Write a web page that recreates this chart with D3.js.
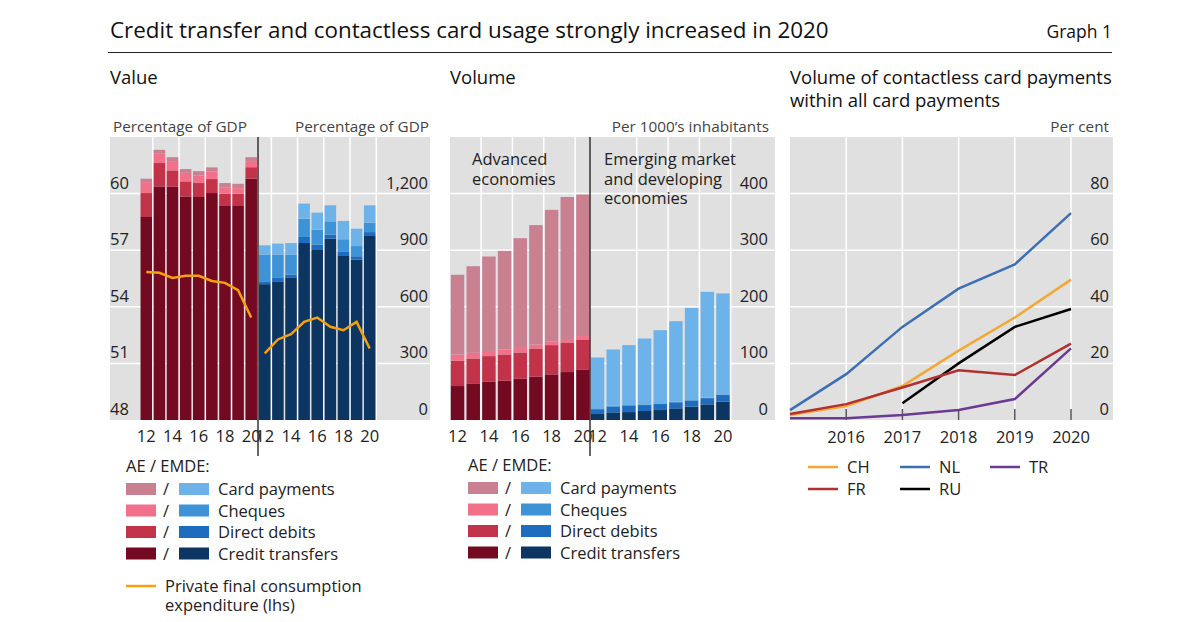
<!DOCTYPE html>
<html>
<head>
<meta charset="utf-8">
<script src="https://cdn.jsdelivr.net/npm/d3@7"></script>
<style>
  body { margin: 0; background: #fff; }
  svg { font-family: "Open Sans", "Noto Sans", sans-serif; }
</style>
</head>
<body>
<div id="chart"></div>
<script>
var width = 1200,
    height = 622;

// ---- data ----
var years = [2012, 2013, 2014, 2015, 2016, 2017, 2018, 2019, 2020];
var labelYears = [2012, 2014, 2016, 2018, 2020];
var keys = ["credit", "debit", "cheque", "card"];

// Value, percentage of GDP (rhs)
var valAECredit = [1076, 1238, 1236, 1185, 1182, 1203, 1138, 1138, 1279];
var valAEDebit  = [127, 124, 87, 80, 74, 74, 61, 61, 61];
var valAECheque = [58, 49, 49, 45, 40, 40, 32, 30, 32];
var valAECard   = [18, 21, 21, 20, 23, 22, 25, 23, 21];
var valEMCredit = [720, 735, 753, 938, 905, 961, 873, 850, 979];
var valEMDebit  = [15, 18, 18, 32, 25, 21, 18, 18, 17];
var valEMCheque = [142, 124, 106, 97, 79, 71, 67, 54, 50];
var valEMCard   = [49, 58, 61, 80, 90, 85, 97, 92, 92];
// Private final consumption expenditure, % of GDP (lhs)
var consAE = [55.85, 55.8, 55.53, 55.64, 55.64, 55.37, 55.27, 54.88, 53.43];
var consEM = [51.53, 52.27, 52.55, 53.2, 53.43, 52.94, 52.76, 53.2, 51.79];

// Volume, per 1000's inhabitants
var volAECredit = [60, 64.7, 67.6, 69.4, 72.9, 76.4, 80.6, 84.7, 89.4];
var volAEDebit  = [44.6, 44, 45.3, 46.4, 46.4, 50, 51.7, 52.3, 52.9];
var volAECheque = [11, 10, 9, 9, 8, 7, 6, 6, 6];
var volAECard   = [141, 153, 167, 174, 194, 211, 233, 251, 250];
var volEMCredit = [11.8, 13.5, 14, 15.9, 17.6, 20.6, 23.5, 27.6, 32.3];
var volEMDebit  = [7.3, 10.3, 11, 10.5, 10.6, 10.7, 10.8, 11, 12.2];
var volEMCheque = [1.5, 1.5, 1.5, 1.2, 1.2, 1, 1, 0.8, 0.8];
var volEMCard   = [89.9, 99.3, 105.8, 116.4, 129.3, 142.3, 162.8, 187, 178.3];

// Contactless share of card payments, per cent
var ctYears = [2015, 2016, 2017, 2018, 2019, 2020];
var ctCH = [1.8, 4.9, 12, 24.5, 36.2, 49.6];
var ctNL = [3.5, 16.2, 32.9, 46.4, 55, 73.1];
var ctFR = [2.1, 5.6, 11.5, 17.6, 15.9, 27];
var ctRU = [null, null, 5.9, 20, 32.9, 39.2];
var ctTR = [0.6, 0.6, 1.8, 3.5, 7.4, 25.3];

var valTicksR = [0, 300, 600, 900, 1200];
var valTicksL = [48, 51, 54, 57, 60];
var volTicks = [0, 100, 200, 300, 400];
var ctTicks = [0, 20, 40, 60, 80];

var aeColors = {card: "#c98191", cheque: "#f2708a", debit: "#c2334a", credit: "#730a22"};
var emColors = {card: "#6db3ea", cheque: "#3d93d6", debit: "#1d6cc0", credit: "#0c3561"};
var orange = "#f5a10f";
var bg = "#e0e0e0";

var svg = d3.select("#chart").append("svg")
    .attr("width", width)
    .attr("height", height);

var TOP = 137, BOT = 420;

function rows(c, d, q, k) {
    return years.map(function(y, i) {
        return {year: y, credit: c[i], debit: d[i], cheque: q[i], card: k[i]};
    });
}
var stack = d3.stack().keys(keys);

function drawBars(g, data, x, y, colors) {
    var series = stack(data);
    g.selectAll(null)
        .data(series)
        .enter().append("g")
        .attr("fill", function(s) { return colors[s.key]; })
        .selectAll("rect")
        .data(function(s) { return s; })
        .enter().append("rect")
        .attr("x", function(d) { return x(d.data.year); })
        .attr("width", x.bandwidth())
        .attr("y", function(d) { return y(d[1]); })
        .attr("height", function(d) { return y(d[0]) - y(d[1]); });
}

function hGrid(g, ticks, y, x0, x1) {
    g.selectAll(null).data(ticks).enter().append("line")
        .attr("x1", x0).attr("x2", x1)
        .attr("y1", function(d) { return y(d); })
        .attr("y2", function(d) { return y(d); })
        .attr("stroke", "#fff").attr("stroke-width", 1.5);
}

function vGridAfter(g, x, idx) {
    var gap = x.step() - x.bandwidth();
    g.selectAll(null).data(idx).enter().append("line")
        .attr("x1", function(i) { return x(years[i]) + x.bandwidth() + gap / 2; })
        .attr("x2", function(i) { return x(years[i]) + x.bandwidth() + gap / 2; })
        .attr("y1", TOP).attr("y2", BOT)
        .attr("stroke", "#fff").attr("stroke-width", 1.5);
}

function tickLabels(g, ticks, y, xpos, anchor, fmt) {
    g.selectAll(null).data(ticks).enter().append("text")
        .attr("x", xpos)
        .attr("y", function(d) { return y(d) - 5; })
        .attr("text-anchor", anchor)
        .attr("font-size", 16.5)
        .attr("fill", "#222")
        .text(fmt || function(d) { return d; });
}

function xLabels(g, list, x) {
    g.selectAll(null).data(list).enter().append("text")
        .attr("x", function(d) { return x(d) + x.bandwidth() / 2; })
        .attr("y", 442)
        .attr("text-anchor", "middle")
        .attr("font-size", 16.5)
        .attr("fill", "#222")
        .text(function(d) { return String(d).slice(2); });
}

function text(x, y, s, size, opts) {
    opts = opts || {};
    return svg.append("text")
        .attr("x", x).attr("y", y)
        .attr("font-size", size)
        .attr("text-anchor", opts.anchor || "start")
        .attr("fill", opts.fill || "#111")
        .text(s);
}

// ---- header ----
text(110, 38, "Credit transfer and contactless card usage strongly increased in 2020", 22.4);
text(1112, 38, "Graph 1", 17.5, {anchor: "end"});
svg.append("line").attr("x1", 108).attr("x2", 1112).attr("y1", 52.5).attr("y2", 52.5)
    .attr("stroke", "#222").attr("stroke-width", 1);

text(110, 84, "Value", 18.5);
text(450, 84, "Volume", 18.5);
text(790, 84, "Volume of contactless card payments", 18.5);
text(790, 107, "within all card payments", 18.5);

text(113, 132, "Percentage of GDP", 15.3, {fill: "#444"});
text(429, 132, "Percentage of GDP", 15.3, {fill: "#444", anchor: "end"});
text(769, 132, "Per 1000\u2019s inhabitants", 15.3, {fill: "#444", anchor: "end"});
text(1109, 132, "Per cent", 15.3, {fill: "#444", anchor: "end"});

// ---- panel 1: value ----
var p1 = svg.append("g");
var yR = d3.scaleLinear().domain([0, 1500]).range([BOT, TOP]);
var yL = d3.scaleLinear().domain([48, 63]).range([BOT, TOP]);
var x1AE = d3.scaleBand().domain(years).range([140, 257.5]).paddingInner(0.12).paddingOuter(0.04);
var x1EM = d3.scaleBand().domain(years).range([258.5, 376]).paddingInner(0.12).paddingOuter(0.04);

p1.append("rect").attr("x", 110).attr("y", TOP).attr("width", 320).attr("height", BOT - TOP).attr("fill", bg);
hGrid(p1, valTicksR.slice(1), yR, 110, 430);
vGridAfter(p1, x1AE, [0, 2, 4, 6]);
vGridAfter(p1, x1EM, [0, 2, 4, 6, 8]);
drawBars(p1, rows(valAECredit, valAEDebit, valAECheque, valAECard), x1AE, yR, aeColors);
drawBars(p1, rows(valEMCredit, valEMDebit, valEMCheque, valEMCard), x1EM, yR, emColors);

var consLine = function(x) {
    return d3.line()
        .x(function(d, i) { return x(years[i]) + x.bandwidth() / 2; })
        .y(function(d) { return yL(d); });
};
p1.append("path").datum(consAE).attr("d", consLine(x1AE))
    .attr("fill", "none").attr("stroke", orange).attr("stroke-width", 2.5);
p1.append("path").datum(consEM).attr("d", consLine(x1EM))
    .attr("fill", "none").attr("stroke", orange).attr("stroke-width", 2.5);

tickLabels(p1, valTicksL, yL, 110, "start");
tickLabels(p1, valTicksR, yR, 428, "end", d3.format(","));
xLabels(p1, labelYears, x1AE);
xLabels(p1, labelYears, x1EM);
p1.append("line").attr("x1", 258).attr("x2", 258).attr("y1", TOP).attr("y2", 456)
    .attr("stroke", "#333").attr("stroke-width", 1.5);

// ---- panel 2: volume ----
var p2 = svg.append("g");
var yV = d3.scaleLinear().domain([0, 500]).range([BOT, TOP]);
var x2AE = d3.scaleBand().domain(years).range([450.5, 590]).paddingInner(0.14).paddingOuter(0.02);
var x2EM = d3.scaleBand().domain(years).range([590.5, 730]).paddingInner(0.14).paddingOuter(0.02);

p2.append("rect").attr("x", 450).attr("y", TOP).attr("width", 325).attr("height", BOT - TOP).attr("fill", bg);
hGrid(p2, volTicks.slice(1), yV, 450, 775);
vGridAfter(p2, x2AE, [1, 3, 5, 7]);
vGridAfter(p2, x2EM, [2, 4, 6, 8]);
drawBars(p2, rows(volAECredit, volAEDebit, volAECheque, volAECard), x2AE, yV, aeColors);
drawBars(p2, rows(volEMCredit, volEMDebit, volEMCheque, volEMCard), x2EM, yV, emColors);
tickLabels(p2, volTicks, yV, 768, "end");
xLabels(p2, labelYears, x2AE);
xLabels(p2, labelYears, x2EM);
p2.append("line").attr("x1", 590).attr("x2", 590).attr("y1", TOP).attr("y2", 456)
    .attr("stroke", "#333").attr("stroke-width", 1.5);

[["Advanced", 165], ["economies", 185]].forEach(function(t) {
    text(472, t[1], t[0], 16.5, {fill: "#222"});
});
[["Emerging market", 165], ["and developing", 185], ["economies", 204]].forEach(function(t) {
    text(604, t[1], t[0], 16.5, {fill: "#222"});
});

// ---- panel 3: contactless ----
var p3 = svg.append("g");
var xP = d3.scaleLinear().domain([2015, 2020]).range([790, 1071]);
var yP = d3.scaleLinear().domain([0, 100]).range([BOT, TOP]);

p3.append("rect").attr("x", 790).attr("y", TOP).attr("width", 323).attr("height", BOT - TOP).attr("fill", bg);
hGrid(p3, ctTicks.slice(1), yP, 790, 1113);
var xYears = [2016, 2017, 2018, 2019, 2020];
p3.selectAll(null).data(xYears).enter().append("line")
    .attr("x1", function(d) { return xP(d); }).attr("x2", function(d) { return xP(d); })
    .attr("y1", TOP).attr("y2", BOT)
    .attr("stroke", "#fff").attr("stroke-width", 1.5);
p3.selectAll(null).data(xYears).enter().append("line")
    .attr("x1", function(d) { return xP(d); }).attr("x2", function(d) { return xP(d); })
    .attr("y1", BOT - 11).attr("y2", BOT)
    .attr("stroke", "#555").attr("stroke-width", 1.5);
tickLabels(p3, ctTicks, yP, 1109, "end");
p3.selectAll(null).data(xYears).enter().append("text")
    .attr("x", function(d) { return xP(d); })
    .attr("y", 443)
    .attr("text-anchor", "middle")
    .attr("font-size", 16.5)
    .attr("fill", "#222")
    .text(function(d) { return d; });

var ctSeries = [
    {name: "CH", values: ctCH, color: "#f2a833"},
    {name: "NL", values: ctNL, color: "#3d6fb6"},
    {name: "TR", values: ctTR, color: "#6b3a92"},
    {name: "FR", values: ctFR, color: "#b2302f"},
    {name: "RU", values: ctRU, color: "#000000"}
];
var ctLine = d3.line()
    .defined(function(d) { return d != null; })
    .x(function(d, i) { return xP(ctYears[i]); })
    .y(function(d) { return yP(d); });
var drawOrder = ["NL", "CH", "RU", "FR", "TR"];
drawOrder.forEach(function(n) {
    var s = ctSeries.filter(function(c) { return c.name === n; })[0];
    p3.append("path").datum(s.values).attr("d", ctLine)
        .attr("fill", "none").attr("stroke", s.color).attr("stroke-width", 2.5);
});

// panel 3 legend
var legPos = [[808, 467], [900, 467], [990, 467], [808, 489], [900, 489]];
ctSeries.forEach(function(s, i) {
    var p = legPos[i];
    svg.append("line").attr("x1", p[0]).attr("x2", p[0] + 30).attr("y1", p[1]).attr("y2", p[1])
        .attr("stroke", s.color).attr("stroke-width", 2.5);
    text(p[0] + 39, p[1] + 6, s.name, 16.5, {fill: "#222"});
});

// panel 1 & 2 legends
var legNames = ["Card payments", "Cheques", "Direct debits", "Credit transfers"];
var legKeys = ["card", "cheque", "debit", "credit"];
function barLegend(x0, y0) {
    text(x0, y0 - 17, "AE / EMDE:", 16.5, {fill: "#222"});
    legKeys.forEach(function(k, i) {
        var yy = y0 + i * 21.5;
        svg.append("rect").attr("x", x0).attr("y", yy - 6).attr("width", 30).attr("height", 12)
            .attr("fill", aeColors[k]);
        text(x0 + 37, yy + 6, "/", 16.5, {fill: "#222"});
        svg.append("rect").attr("x", x0 + 53).attr("y", yy - 6).attr("width", 30).attr("height", 12)
            .attr("fill", emColors[k]);
        text(x0 + 92, yy + 6, legNames[i], 16.5, {fill: "#222"});
    });
}
barLegend(126, 489);
barLegend(468, 488);

svg.append("line").attr("x1", 126).attr("x2", 156).attr("y1", 586).attr("y2", 586)
    .attr("stroke", orange).attr("stroke-width", 2.5);
text(165, 592, "Private final consumption", 16.5, {fill: "#222"});
text(165, 611, "expenditure (lhs)", 16.5, {fill: "#222"});
</script>
</body>
</html>
